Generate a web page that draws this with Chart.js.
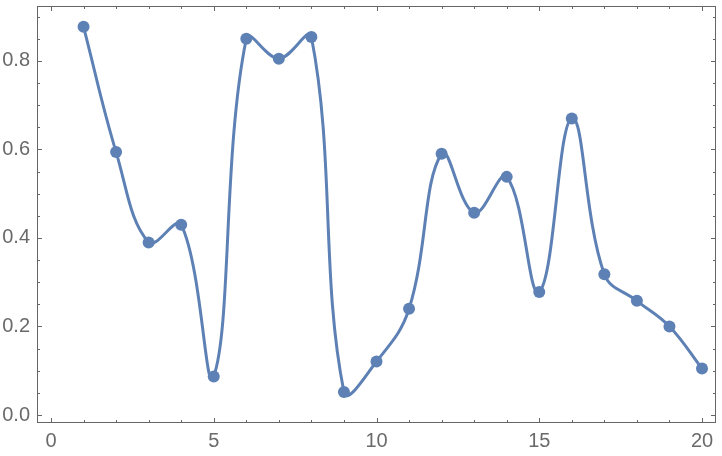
<!DOCTYPE html>
<html>
<head>
<meta charset="utf-8">
<script src="https://cdn.jsdelivr.net/npm/chart.js@4.4.1/dist/chart.umd.min.js"></script>
<style>
  html, body { margin: 0; padding: 0; background: #fff; }
  #wrap { width: 722px; height: 456px; }
</style>
</head>
<body>
<div id="wrap"><canvas id="chart"></canvas></div>
<script>
// data
const xValues = [1, 2, 3, 4, 5, 6, 7, 8, 9, 10, 11, 12, 13, 14, 15, 16, 17, 18, 19, 20];
const yValues = [0.877, 0.594, 0.390, 0.430, 0.087, 0.850, 0.805, 0.854, 0.052, 0.121,
                 0.240, 0.590, 0.457, 0.538, 0.278, 0.670, 0.318, 0.258, 0.200, 0.105];
const xMajorTicks = [0, 5, 10, 15, 20];
const yMajorTicks = [0.0, 0.2, 0.4, 0.6, 0.8];

const lineColor = '#5E81B5';
const axisColor = '#666666';
const labelColor = '#6a6a6a';

// frame with inward major/minor ticks, Mathematica style
const framePlugin = {
  id: 'frame',
  afterDraw(chart) {
    const ctx = chart.ctx;
    const a = chart.chartArea;
    const xs = chart.scales.x;
    const ys = chart.scales.y;
    ctx.save();
    ctx.strokeStyle = axisColor;
    ctx.lineWidth = 1;
    ctx.strokeRect(Math.round(a.left) + 0.5, Math.round(a.top) + 0.5,
      Math.round(a.right - a.left) - 1, Math.round(a.bottom - a.top) - 1);
    ctx.beginPath();
    for (let v = 0; v <= 20; v += 1) {
      const px = Math.round(xs.getPixelForValue(v)) + 0.5;
      const len = v % 5 === 0 ? 5 : 3;
      ctx.moveTo(px, a.bottom); ctx.lineTo(px, a.bottom - len);
      ctx.moveTo(px, a.top); ctx.lineTo(px, a.top + len);
    }
    for (let i = 0; i <= 18; i++) {
      const v = i * 0.05;
      const py = Math.round(ys.getPixelForValue(v)) + 0.5;
      const len = i % 4 === 0 ? 5 : 3;
      ctx.moveTo(a.left, py); ctx.lineTo(a.left + len, py);
      ctx.moveTo(a.right, py); ctx.lineTo(a.right - len, py);
    }
    ctx.stroke();
    ctx.restore();
  }
};

new Chart(document.getElementById('chart'), {
  type: 'line',
  data: {
    datasets: [{
      data: xValues.map((x, i) => ({ x: x, y: yValues[i] })),
      borderColor: lineColor,
      backgroundColor: lineColor,
      borderWidth: 3,
      pointRadius: 6,
      pointBorderWidth: 0,
      tension: 0.4,
      fill: false
    }]
  },
  options: {
    responsive: true,
    maintainAspectRatio: false,
    animation: false,
    layout: { padding: { left: 0, right: 4, top: 3, bottom: 0 } },
    plugins: { legend: { display: false }, tooltip: { enabled: false } },
    scales: {
      x: {
        type: 'linear',
        min: -0.43,
        max: 20.43,
        afterBuildTicks: s => { s.ticks = xMajorTicks.map(v => ({ value: v })); },
        afterFit: s => { s.height = 33; s.paddingLeft = 0; s.paddingRight = 0; },
        grid: { display: false, drawTicks: false },
        border: { display: false },
        ticks: {
          color: labelColor,
          padding: 6,
          font: { family: 'Liberation Sans', size: 20 },
          callback: v => String(v)
        }
      },
      y: {
        min: -0.018,
        max: 0.924,
        afterBuildTicks: s => { s.ticks = yMajorTicks.map(v => ({ value: v })); },
        afterFit: s => { s.width = 37; s.paddingTop = 0; s.paddingBottom = 0; },
        grid: { display: false, drawTicks: false },
        border: { display: false },
        ticks: {
          color: labelColor,
          padding: 7,
          font: { family: 'Liberation Sans', size: 20 },
          callback: v => v.toFixed(1)
        }
      }
    }
  },
  plugins: [framePlugin]
});
</script>
</body>
</html>
